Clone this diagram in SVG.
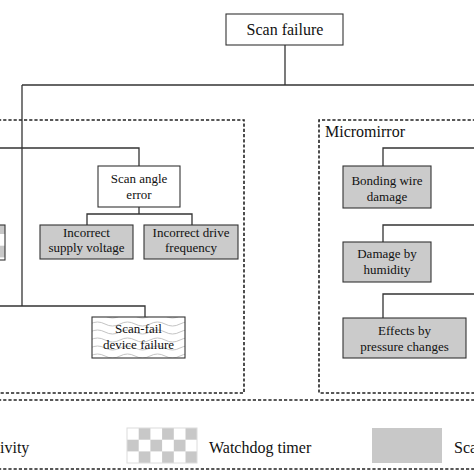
<svg xmlns="http://www.w3.org/2000/svg" width="474" height="474" viewBox="0 0 474 474">
<defs>
<pattern id="checker" x="0" y="0" width="23.4" height="23.4" patternUnits="userSpaceOnUse">
<rect width="23.4" height="23.4" fill="#ffffff"/>
<rect x="11.7" y="0" width="11.7" height="11.7" fill="#c8c8c8"/>
<rect x="0" y="11.7" width="11.7" height="11.7" fill="#c8c8c8"/>
</pattern>
<pattern id="checkerL" x="127" y="428" width="23.4" height="23.4" patternUnits="userSpaceOnUse">
<rect width="23.4" height="23.4" fill="#ffffff"/>
<rect x="11.7" y="0" width="11.7" height="11.7" fill="#c8c8c8"/>
<rect x="0" y="11.7" width="11.7" height="11.7" fill="#c8c8c8"/>
</pattern>
<pattern id="wave" x="0" y="0" width="30" height="8" patternUnits="userSpaceOnUse">
<rect width="30" height="8" fill="#ffffff"/>
<path d="M0 4 Q7.5 0 15 4 T30 4" fill="none" stroke="#c4c4c4" stroke-width="1"/>
</pattern>
</defs>
<style>
.box{stroke:#333;stroke-width:1.1}
.plain{fill:#fff}
.gray{fill:#cbcbcb}
.dash{fill:none;stroke:#222;stroke-width:1.6;stroke-dasharray:3.2 2}
.conn{fill:none;stroke:#333;stroke-width:1.3}
text{font-family:"Liberation Serif","Times New Roman",serif;fill:#111}
.t13{font-size:13px;text-anchor:middle}
</style>

<g id="containers">
<path class="dash" d="M-2 120 H244 V393 H-2"/>
<path class="dash" d="M476 120 H319 V393 H476"/>
<path class="dash" d="M-2 400 H476"/>
<path class="dash" d="M-2 469 H476"/>
<text x="325" y="137" font-size="16">Micromirror</text>
</g>

<g id="connectors">
<path class="conn" d="M285 45 V85"/>
<path class="conn" d="M22 85 H476"/>
<path class="conn" d="M22 85 V306"/>
<path class="conn" d="M-2 148 H139 V166"/>
<path class="conn" d="M139 207 V214"/>
<path class="conn" d="M87 225 V214 H192 V225"/>
<path class="conn" d="M-2 306 H145 V317"/>
<path class="conn" d="M383 166 V148 H476"/>
<path class="conn" d="M383 242 V225 H476"/>
<path class="conn" d="M383 318 V294 H476"/>
</g>

<g id="scan-failure">
<rect class="box plain" x="226" y="14" width="117" height="31"/>
<text x="285" y="35" font-size="16" text-anchor="middle">Scan failure</text>
</g>

<g id="left-partial">
<rect class="box" x="-60" y="225" width="65" height="35" fill="url(#checker)"/>
</g>

<g id="scan-angle-error">
<rect class="box plain" x="98" y="166" width="82" height="41"/>
<text class="t13" x="139" y="183">Scan angle</text>
<text class="t13" x="139" y="199">error</text>
</g>

<g id="incorrect-supply-voltage">
<rect class="box gray" x="40" y="225" width="93" height="34"/>
<text class="t13" x="86.5" y="237">Incorrect</text>
<text class="t13" x="86.5" y="252">supply voltage</text>
</g>

<g id="incorrect-drive-frequency">
<rect class="box gray" x="144" y="225" width="94" height="34"/>
<text class="t13" x="191" y="237">Incorrect drive</text>
<text class="t13" x="191" y="252">frequency</text>
</g>

<g id="scan-fail-device-failure">
<rect class="box" x="92" y="317" width="93" height="41" fill="url(#wave)"/>
<text class="t13" x="138.5" y="333">Scan-fail</text>
<text class="t13" x="138.5" y="349">device failure</text>
</g>

<g id="bonding-wire-damage">
<rect class="box gray" x="343" y="166" width="88" height="42"/>
<text class="t13" x="387" y="185">Bonding wire</text>
<text class="t13" x="387" y="201">damage</text>
</g>

<g id="damage-by-humidity">
<rect class="box gray" x="343" y="242" width="88" height="40"/>
<text class="t13" x="387" y="258">Damage by</text>
<text class="t13" x="387" y="274">humidity</text>
</g>

<g id="effects-by-pressure-changes">
<rect class="box gray" x="343" y="318" width="123" height="40"/>
<text class="t13" x="404.5" y="335">Effects by</text>
<text class="t13" x="404.5" y="351">pressure changes</text>
</g>

<g id="legend">
<text x="0" y="453" font-size="16">ivity</text>
<rect x="127" y="428" width="70" height="35" fill="url(#checkerL)" stroke="#dcdcdc" stroke-width="1"/>
<text x="209" y="453" font-size="16">Watchdog timer</text>
<rect x="372" y="428" width="70" height="35" fill="#c8c8c8"/>
<text x="454" y="453" font-size="16">Sca</text>
</g>
</svg>
